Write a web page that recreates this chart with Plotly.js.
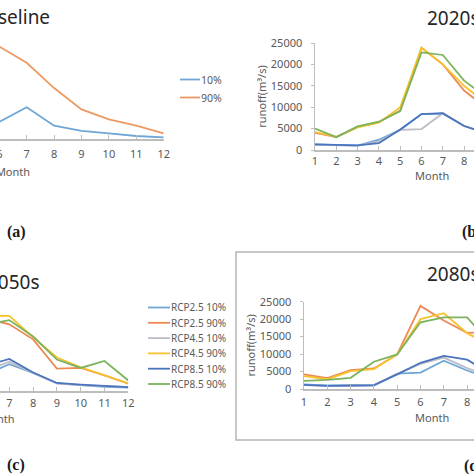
<!DOCTYPE html>
<html>
<head>
<meta charset="utf-8">
<script src="https://cdn.plot.ly/plotly-3.0.1.min.js"></script>
<style>
html,body{margin:0;padding:0;background:#fff;overflow:hidden;width:474px;height:474px;}
#wrap{position:absolute;left:-200px;top:0;width:874px;height:474px;}
</style>
</head>
<body>
<div id="wrap"></div>
<script>
// ---- data (runoff, m3/s) ----
const monthsBase = [6, 7, 8, 9, 10, 11, 12];
const base10 = [4000, 7400, 3100, 1900, 1300, 700, 400];
const base90 = [21600, 17800, 11900, 6900, 4600, 3100, 1300];

const months2020 = [1, 2, 3, 4, 5, 6, 7, 8, 9];
const y2020_rcp26_10 = [1300, 1100, 1000, 2400, 4700, 8400, 8500, 5600, 4000];
const y2020_rcp26_90 = [4000, 3000, 5400, 6500, 9200, 23900, 20000, 13900, 10000];
const y2020_rcp45_10 = [1200, 1100, 1000, 2000, 4700, 4900, 8600, 5600, 4000];
const y2020_rcp45_90 = [4200, 3100, 5300, 6400, 10000, 23900, 20000, 15000, 11000];
const y2020_rcp85_10 = [1300, 1200, 1100, 1600, 4800, 8400, 8600, 5600, 4000];
const y2020_rcp85_90 = [5000, 3000, 5500, 6600, 9100, 22800, 22200, 16200, 12500];

const months2050 = [6, 7, 8, 9, 10, 11, 12];
const y2050_rcp26_10 = [4600, 7700, 5200, 2200, 1700, 1200, 1000];
const y2050_rcp26_90 = [20800, 19100, 14800, 6400, 6600, 4500, 2100];
const y2050_rcp45_10 = [5800, 8400, 5200, 2200, 1700, 1400, 1100];
const y2050_rcp45_90 = [21500, 21500, 15400, 9600, 6800, 4600, 2200];
const y2050_rcp85_10 = [7200, 9200, 5300, 2300, 1800, 1400, 1100];
const y2050_rcp85_90 = [19000, 20300, 15600, 9000, 6600, 8600, 3000];

const months2080 = [1, 2, 3, 4, 5, 6, 7, 8, 9];
const y2080_rcp26_10 = [1300, 1000, 1000, 1000, 4400, 4700, 8100, 5300, 3000];
const y2080_rcp26_90 = [4200, 3100, 5400, 5900, 9900, 23800, 19600, 16100, 16300];
const y2080_rcp45_10 = [1100, 900, 1000, 1000, 4300, 7200, 9000, 6000, 3500];
const y2080_rcp45_90 = [3700, 2800, 5100, 5700, 9900, 20000, 21700, 16000, 12500];
const y2080_rcp85_10 = [1200, 900, 1000, 1100, 4200, 7500, 9500, 8400, 4400];
const y2080_rcp85_90 = [2300, 2600, 3200, 7800, 9900, 19100, 20500, 20500, 13000];

const seriesNames = ['RCP2.5 10%', 'RCP2.5 90%', 'RCP4.5 10%', 'RCP4.5 90%', 'RCP8.5 10%', 'RCP8.5 90%'];
const baseNames = ['10%', '90%'];
const ticksA = [6, 7, 8, 9, 10, 11, 12];
const ticksB = [1, 2, 3, 4, 5, 6, 7, 8];
const ticksC = [7, 8, 9, 10, 11, 12];
const ticksD = [1, 2, 3, 4, 5, 6, 7, 8];
const panelTitles = ['Baseline', '2020s', '2050s', '2080s'];
const panelLabels = ['(a)', '(b)', '(c)', '(d)'];
const yTitle = 'runoff(m³/s)';
const xTitle = 'Month';

// ---- styles ----
const colors = ['#6ea6d6', '#ec8a55', '#bdbdc8', '#f7c22a', '#4a74c0', '#7cb35c'];
const baseColors = ['#6ea6d6', '#ec9a62'];
const FONT = 'Noto Sans, DejaVu Sans, sans-serif';
const AX = '#bdbdbd';
const TXT = '#595959';

const traces = [];
baseNames.forEach((n, i) => {
  traces.push({x: monthsBase, y: [base10, base90][i], name: n, type: 'scatter', mode: 'lines',
    line: {color: baseColors[i], width: 1.8}, xaxis: 'x', yaxis: 'y', legend: 'legend'});
});
const s2020 = [y2020_rcp26_10, y2020_rcp26_90, y2020_rcp45_10, y2020_rcp45_90, y2020_rcp85_10, y2020_rcp85_90];
const s2050 = [y2050_rcp26_10, y2050_rcp26_90, y2050_rcp45_10, y2050_rcp45_90, y2050_rcp85_10, y2050_rcp85_90];
const s2080 = [y2080_rcp26_10, y2080_rcp26_90, y2080_rcp45_10, y2080_rcp45_90, y2080_rcp85_10, y2080_rcp85_90];
seriesNames.forEach((n, i) => {
  traces.push({x: months2020, y: s2020[i], name: n, type: 'scatter', mode: 'lines',
    line: {color: colors[i], width: 1.8}, xaxis: 'x2', yaxis: 'y2', showlegend: false});
});
seriesNames.forEach((n, i) => {
  traces.push({x: months2050, y: s2050[i], name: n, type: 'scatter', mode: 'lines',
    line: {color: colors[i], width: 1.8}, xaxis: 'x3', yaxis: 'y3', legend: 'legend2'});
});
seriesNames.forEach((n, i) => {
  traces.push({x: months2080, y: s2080[i], name: n, type: 'scatter', mode: 'lines',
    line: {color: colors[i], width: 1.8}, xaxis: 'x4', yaxis: 'y4', showlegend: false});
});

const W = 874, H = 474;
function px(v) { return v / W; }
function py(v) { return 1 - v / H; }

function xax(d0, d1, anchor, tv, lblOff, ttlOff) {
  return {domain: [px(d0), px(d1)], range: [1, 12], anchor: anchor, tickmode: 'array', tickvals: tv,
    ticks: 'inside', ticklen: 4, tickcolor: AX, tickwidth: 1, showline: true, linecolor: AX, linewidth: 1.5,
    showgrid: false, zeroline: false, ticklabelstandoff: lblOff, tickfont: {family: FONT, size: 11, color: TXT},
    title: {text: xTitle, font: {family: FONT, size: 11, color: TXT}, standoff: ttlOff}};
}
function yax(top, bottom, anchor, show) {
  return {domain: [py(bottom), py(top)], range: [0, 25000], anchor: anchor, dtick: 5000, tickformat: 'd',
    ticks: 'outside', ticklen: 3, tickcolor: AX, showline: true, linecolor: AX, linewidth: 1.5,
    showgrid: false, zeroline: false, visible: show, ticklabelstandoff: 6,
    tickfont: {family: FONT, size: 11, color: TXT},
    title: {text: yTitle, font: {family: FONT, size: 11, color: TXT}}};
}

function titleAnn(text, x, y, anchor) {
  return {text: text, xref: 'paper', yref: 'paper', x: px(x), y: py(y), xanchor: anchor, yanchor: 'middle',
    showarrow: false, font: {family: FONT, size: 19, color: '#262626'}};
}
function labelAnn(text, x, y) {
  return {text: '<b>' + text + '</b>', xref: 'paper', yref: 'paper', x: px(x), y: py(y), xanchor: 'left', yanchor: 'middle',
    showarrow: false, font: {family: 'Liberation Serif, serif', size: 16, color: '#1a1a1a'}};
}

const layout = {
  width: W, height: H, margin: {l: 0, r: 0, t: 0, b: 0},
  paper_bgcolor: '#ffffff', plot_bgcolor: 'rgba(0,0,0,0)',
  font: {family: FONT, color: TXT},
  showlegend: true,
  xaxis: xax(62.3, 363.7, 'y', ticksA, 4, 8),
  yaxis: yax(32, 139, 'x', false),
  xaxis2: xax(515, 749.3, 'y2', ticksB, 0, 4),
  yaxis2: yax(43, 150, 'x2', true),
  xaxis3: xax(66.5, 328.3, 'y3', ticksC, 1, 6),
  yaxis3: yax(303.7, 391, 'x3', false),
  xaxis4: xax(504, 760.3, 'y4', ticksD, 2, 6),
  yaxis4: yax(301.7, 389, 'x4', true),
  legend: {x: px(361), y: py(65), xanchor: 'left', yanchor: 'top', bgcolor: 'rgba(0,0,0,0)',
    font: {family: FONT, size: 10.5, color: TXT}},
  legend2: {x: px(331), y: py(293), xanchor: 'left', yanchor: 'top', bgcolor: 'rgba(0,0,0,0)',
    font: {family: FONT, size: 10, color: TXT}},
  annotations: [
    titleAnn(panelTitles[0], 252, 17, 'right'),
    titleAnn(panelTitles[1], 625, 18, 'left'),
    titleAnn(panelTitles[2], 242, 282, 'right'),
    titleAnn(panelTitles[3], 625, 274, 'left'),
    labelAnn(panelLabels[0], 205, 232),
    labelAnn(panelLabels[1], 660, 232),
    labelAnn(panelLabels[2], 205, 465),
    labelAnn(panelLabels[3], 662, 466)
  ],
  shapes: [
    {type: 'rect', xref: 'paper', yref: 'paper', x0: px(436), x1: 1, y0: py(440), y1: py(252),
      line: {color: '#b5b5b5', width: 1.5}, fillcolor: 'rgba(0,0,0,0)', layer: 'below'}
  ]
};

// compact the legend rows and shorten the sample lines like the original
function tuneLegend(cls, spacing, lineStart, lineLen) {
  const g = document.querySelector('#wrap g.' + cls);
  if (!g) return;
  const items = g.querySelectorAll('g.traces');
  let y0 = null;
  items.forEach((it, k) => {
    const t = it.getAttribute('transform') || '';
    const m = t.match(/translate\(([-\d.e]+)[ ,]+([-\d.e]+)\)/);
    if (!m) return;
    const x = parseFloat(m[1]), y = parseFloat(m[2]);
    if (y0 === null) y0 = y;
    it.setAttribute('transform', 'translate(' + x + ',' + (y0 + k * spacing) + ')');
    it.querySelectorAll('path.js-line').forEach(p => p.setAttribute('d', 'M' + lineStart + ',0h' + lineLen));
  });
}

Plotly.newPlot('wrap', traces, layout, {staticPlot: true, displayModeBar: false}).then(() => {
  tuneLegend('legend', 18, 19, 20);
  tuneLegend('legend2', 15.3, 17, 22);
});
</script>
</body>
</html>
